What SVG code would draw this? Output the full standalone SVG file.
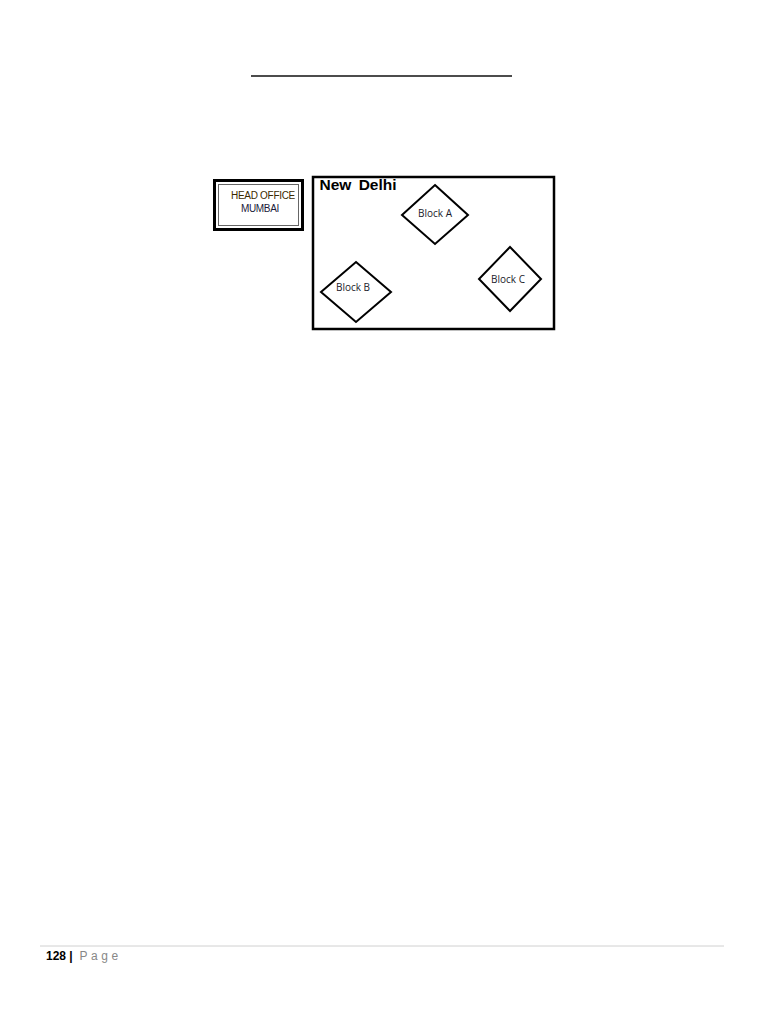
<svg xmlns="http://www.w3.org/2000/svg" width="768" height="1024" viewBox="0 0 768 1024">
<style>
.blk{fill:#fff;stroke:#000;stroke-width:2}
.lbl{font-family:"Open Sans","Liberation Sans",sans-serif;font-size:10px;fill:#1a1a2a;text-anchor:middle}
</style>
<rect width="768" height="1024" fill="#fff"/>
<line x1="251" y1="76" x2="512" y2="76" stroke="#111" stroke-width="1.3"/>
<g id="head-office">
<rect x="214.5" y="180.5" width="88" height="49" fill="#fff" stroke="#000" stroke-width="3"/>
<rect x="218.5" y="184.5" width="80" height="41" fill="none" stroke="#666" stroke-width="1"/>
<text x="263" y="199" font-family="Liberation Sans,sans-serif" font-size="10" fill="#3a2a00" text-anchor="middle" letter-spacing="-0.3">HEAD OFFICE</text>
<text x="260" y="212" font-family="Liberation Sans,sans-serif" font-size="10" fill="#1a1a3a" text-anchor="middle" letter-spacing="-0.3">MUMBAI</text>
</g>
<g id="new-delhi">
<rect x="313" y="177" width="241" height="152" fill="none" stroke="#000" stroke-width="2.5"/>
<text x="319.5" y="190" font-family="Liberation Sans,sans-serif" font-size="15.5" font-weight="bold" fill="#000" word-spacing="3">New Delhi</text>
</g>
<g id="block-a">
<polygon class="blk" points="435,185 468,215 435,244 402,215"/>
<text class="lbl" x="435" y="217">Block A</text>
</g>
<g id="block-b">
<polygon class="blk" points="356,262 391,292 356,322 321,292"/>
<text class="lbl" x="353" y="291">Block B</text>
</g>
<g id="block-c">
<polygon class="blk" points="510,247 541,279 510,311 479,279"/>
<text class="lbl" x="508" y="283">Block C</text>
</g>
<g id="connectors"></g>
<line x1="40" y1="946" x2="724" y2="946" stroke="#d0d0d0" stroke-width="1"/>
<text x="46" y="960" font-family="Liberation Sans,sans-serif" font-size="12" fill="#000"><tspan font-weight="bold">128 |</tspan><tspan fill="#888" letter-spacing="3.5"> Page</tspan></text>
</svg>
